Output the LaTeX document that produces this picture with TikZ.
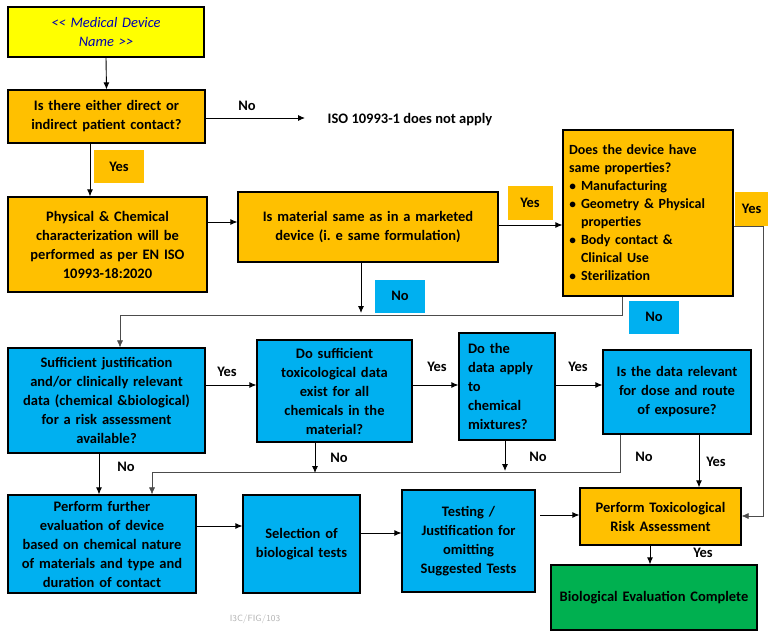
\documentclass[tikz,border=0pt]{standalone}
\usepackage{fontspec}
\setmainfont{Carlito}
\usetikzlibrary{arrows.meta}
\definecolor{org}{RGB}{255,192,0}
\definecolor{cy}{RGB}{0,176,240}
\definecolor{gr}{RGB}{0,176,80}
\definecolor{yl}{RGB}{255,255,0}
\hyphenpenalty=10000
\begin{document}
\begin{tikzpicture}[x=1pt,y=-1pt,
  bx/.style={draw=black,line width=1.2pt,align=center,inner xsep=1pt,inner ysep=0pt,font=\bfseries\fontsize{14.5}{19}\selectfont},
  lb/.style={inner sep=0pt,font=\bfseries\fontsize{14.5}{16}\selectfont},
  lbox/.style={fill=#1,minimum width=50pt,minimum height=33pt,font=\bfseries\fontsize{14.5}{16}\selectfont},
  ar/.style={-{Latex[length=7pt,width=6pt]},line width=0.9pt},
  ln/.style={line width=0.6pt,draw=black!70}]
\useasboundingbox (0,0) rectangle (768,639);
\newcommand\bxat[7][center]{\node[bx,fill=#3,align=#1,minimum width=#6-#4,minimum height=#7-#5,text width=#6-#4-4] (#2) at ({(#4+#6)/2},{(#5+#7)/2})}
\bxat{name}{yl}{8}{7}{204}{57}{\normalfont\itshape\color{blue!70!black}<\kern0pt<\kern0pt{} Medical Device\\ Name >\kern0pt>};
\bxat{q1}{org}{8}{90}{205}{143}{Is there either direct or\\ indirect patient contact?};
\node[lbox=org] (y1) at (119,167) {Yes};
\node[lb] (no1) at (247,106) {No};
\node[lb] (iso) at (410,120) {ISO 10993-1 does not apply};
\bxat{phys}{org}{8}{197}{207}{292}{Physical \& Chemical\\ characterization will be\\ performed as per EN ISO\\ 10993-18:2020};
\bxat{mat}{org}{238}{192}{498}{262}{Is material same as in a marketed\\ device (i.\ e same formulation)};
\node[lbox=org,minimum width=45pt] (y2) at (530,203) {Yes};
\node[bx,fill=org,minimum width=170pt,minimum height=166pt,align=left,text width=158pt,font=\bfseries\fontsize{14}{18}\selectfont] (prop) at (648,213) {Does the device have\\ same properties?\\
\makebox[12pt][l]{$\bullet$}Manufacturing\\
\makebox[12pt][l]{$\bullet$}Geometry \& Physical\\ \hspace*{12pt}properties\\
\makebox[12pt][l]{$\bullet$}Body contact \&\\ \hspace*{12pt}Clinical Use\\
\makebox[12pt][l]{$\bullet$}Sterilization};
\node[lbox=org,minimum width=33pt,anchor=west] (y3) at (735,209) {Yes};
\node[lbox=cy] (n2) at (400,296) {No};
\node[lbox=cy] (n3) at (654,317) {No};
\bxat{suff}{cy}{8}{348}{205}{453}{Sufficient justification\\ and/or clinically relevant\\ data (chemical \&biological)\\ for a risk assessment\\ available?};
\bxat{tox}{cy}{257}{340}{412}{442}{Do sufficient\\ toxicological data\\ exist for all\\ chemicals in the\\ material?};
\node[bx,fill=cy,align=left,minimum width=96pt,minimum height=107pt,text width=78pt] (mix) at (507,386.5) {Do the\\ data apply\\ to\\ chemical\\ mixtures?};
\bxat{rel}{cy}{603}{350}{751}{434}{Is the data relevant\\ for dose and route\\ of exposure?};
\node[lb] (ya) at (227,372) {Yes};
\node[lb] (yb) at (437,367) {Yes};
\node[lb] (yc) at (578,367) {Yes};
\node[lb] (na) at (126,467) {No};
\node[lb] (nb) at (339,458) {No};
\node[lb] (nc) at (538,457) {No};
\node[lb] (nd) at (644,457) {No};
\node[lb] (yd) at (716,462) {Yes};
\bxat{perf}{cy}{8}{495}{196}{593}{Perform further\\ evaluation of device\\ based on chemical nature\\ of materials and type and\\ duration of contact};
\bxat{sel}{cy}{243}{495}{360}{593}{Selection of\\ biological tests};
\bxat{test}{cy}{402}{490}{535}{592}{Testing /\\ Justification for\\ omitting\\ Suggested Tests};
\bxat{trisk}{org}{580}{488}{741}{545}{Perform Toxicological\\ Risk Assessment};
\node[lb] (ye) at (703,553) {Yes};
\bxat{bio}{gr}{551}{565}{757}{630}{Biological Evaluation Complete};
\node[font=\sffamily\fontsize{9}{10}\selectfont,text=black!30] (fig) at (255,619) {I3C/FIG/103};
\coordinate (c1) at (305,118);
\draw[ar] (name.south) -- (q1.north);
\draw[ar] (q1.east |- c1) -- (c1);
\draw[ar] (q1.south -| 90,0) -- (phys.north -| 90,0);
\draw[ar] (phys.east |- 0,222) -- (mat.west |- 0,222);
\draw[ar] (mat.east |- 0,225) -- (prop.west |- 0,225);
\draw[ar] (mat.south -| 361,0) -- (361,313);
\draw[ln,-{Latex[length=7pt,width=6pt]}] (prop.south -| 622,0) -- (622,315) -- (120,315) -- (suff.north -| 120,0);
\draw[ln,-{Latex[length=7pt,width=6pt]}] (prop.east |- 0,226) -- (763,226) -- (763,516) -- (trisk.east |- 0,516);
\draw[ar] (suff.east |- 0,385) -- (tox.west |- 0,385);
\draw[ar] (tox.east |- 0,385) -- (mix.west |- 0,385);
\draw[ar] (mix.east |- 0,385) -- (rel.west |- 0,385);
\draw[ar] (suff.south -| 99,0) -- (perf.north -| 99,0);
\draw[ln,-{Latex[length=7pt,width=6pt]}] (rel.south -| 620,0) -- (620,472) -- (152,472) -- (perf.north -| 152,0);
\draw[ar] (tox.south -| 315,0) -- (315,473);
\draw[ar] (mix.south -| 505,0) -- (505,471);
\draw[ar] (rel.south -| 699,0) -- (trisk.north -| 699,0);
\draw[ar] (perf.east |- 0,526) -- (sel.west |- 0,526);
\draw[ar] (sel.east |- 0,533) -- (test.west |- 0,533);
\draw[ar] (540,515) -- (trisk.west |- 0,515);
\draw[ar] (trisk.south -| 650,0) -- (bio.north -| 650,0);
\end{tikzpicture}
\end{document}
